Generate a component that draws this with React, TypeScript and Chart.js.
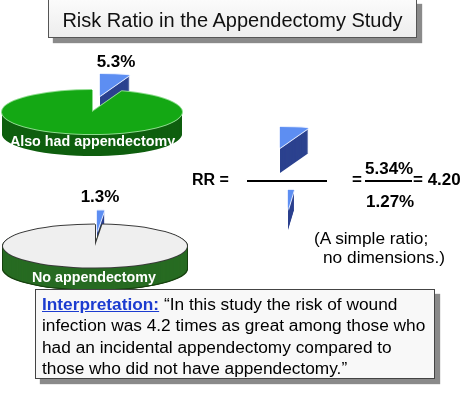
import React, { useEffect, useRef } from 'react';
import { Chart, registerables } from 'chart.js';

Chart.register(...registerables);

// ---- data ----
const groups = ['Also had appendectomy', 'No appendectomy'];
const riskPct = [5.34, 1.27]; // % with wound infection in each group
const sliceLabels = ['infected', 'not infected'];
const titleText = 'Risk Ratio in the Appendectomy Study';
const noteLines = ['(A simple ratio;', 'no dimensions.)'];
const interpLead = 'Interpretation:';
const interpLines = [
  '\u201cIn this study the risk of wound',
  'infection was 4.2 times as great among those who',
  'had an incidental appendectomy compared to',
  'those who did not have appendectomy.\u201d',
];

const FONT = '"Liberation Sans", Arial, Helvetica, sans-serif';

type Face = { top: string; rim: string; edge?: string; rimEdge?: string } | null;

const BLUE: Face = { top: '#5d8ef2', rim: '#2c428f', edge: '#e4ecff' };

function paint(ctx: CanvasRenderingContext2D, el: any, k: number, dx: number, dy: number, color: string) {
  const fake = Object.assign(Object.create(Object.getPrototypeOf(el)), el);
  fake.options = { ...el.options, backgroundColor: color, borderColor: color, borderWidth: 0, offset: 0, spacing: 0 };
  ctx.save();
  ctx.translate(el.x + dx, el.y + dy);
  ctx.scale(1, k);
  ctx.translate(-el.x, -el.y);
  fake.draw(ctx);
  ctx.restore();
}

function Pie3D(props: {
  cx: number; cy: number; rx: number; ry: number; depth: number;
  values: number[]; faces: Face[]; explode: number[][];
}) {
  const { cx, cy, rx, ry, depth, values, faces, explode } = props;
  const ref = useRef<HTMLCanvasElement>(null);
  const W = 2 * Math.ceil(rx + 4);
  const H = 2 * Math.ceil(ry + depth + 24);
  useEffect(() => {
    const k = ry / rx;
    const plugin = {
      id: 'pie3d',
      beforeDatasetsDraw(chart: any) {
        const ctx = chart.ctx as CanvasRenderingContext2D;
        const arcs = chart.getDatasetMeta(0).data;
        arcs.forEach((el: any, i: number) => {
          const f = faces[i];
          if (!f) return;
          const [ex, ey] = explode[i] || [0, 0];
          if (f.rimEdge) {
            for (let d = depth + 1; d >= 0; d--) {
              paint(ctx, el, k, ex - 1, ey + d, f.rimEdge);
              paint(ctx, el, k, ex + 1, ey + d, f.rimEdge);
            }
            paint(ctx, el, k, ex, ey + depth + 1, f.rimEdge);
          }
          for (let d = depth; d >= 1; d--) paint(ctx, el, k, ex, ey + d, f.rim);
          if (f.edge) {
            [[-1, 0], [1, 0], [0, -1], [0, 1]].forEach(([a, b]) => paint(ctx, el, k, ex + a, ey + b, f.edge!));
          }
          paint(ctx, el, k, ex, ey, f.top);
        });
        return false;
      },
    };
    const chart = new Chart(ref.current!, {
      type: 'pie',
      data: {
        labels: sliceLabels,
        datasets: [{
          data: values,
          backgroundColor: faces.map((f) => (f ? f.top : 'transparent')),
          borderWidth: 0,
          radius: rx,
          clip: false,
        } as any],
      },
      options: {
        responsive: false,
        animation: false,
        events: [],
        radius: rx,
        layout: { padding: 0 },
        plugins: { legend: { display: false }, tooltip: { enabled: false } },
      } as any,
      plugins: [plugin],
    });
    return () => chart.destroy();
  }, []);
  return (
    <canvas
      ref={ref}
      width={W}
      height={H}
      style={{ position: 'absolute', left: cx - W / 2, top: cy - H / 2, width: W, height: H }}
    />
  );
}

function Txt(props: { x: number; y: number; size: number; bold?: boolean; color?: string; mid?: boolean; children: any }) {
  const { x, y, size, bold, color = '#000', mid, children } = props;
  return (
    <div
      style={{
        position: 'absolute',
        left: x,
        top: y - 0.8465 * size,
        fontSize: size,
        lineHeight: size + 'px',
        fontWeight: bold ? 700 : 400,
        color,
        whiteSpace: 'nowrap',
        transform: mid ? 'translateX(-50%)' : undefined,
      }}
    >
      {children}
    </div>
  );
}

export default function App() {
  const ratio = (riskPct[0] / riskPct[1]).toFixed(2);
  const rest = (v: number) => [v, 100 - v];
  return (
    <div
      style={{
        position: 'fixed', left: 0, top: 0, width: 474, height: 395,
        background: '#fff', overflow: 'hidden', fontFamily: FONT,
      }}
    >
      {/* pies */}
      <Pie3D cx={92} cy={112} rx={90} ry={22} depth={22} values={rest(riskPct[0])}
        faces={[BLUE, { top: '#14a814', rim: '#0f5f0f', edge: '#8fdc8f' }]}
        explode={[[8, -16], [0, 0]]} />
      <Pie3D cx={95} cy={246} rx={92} ry={21.5} depth={22} values={rest(riskPct[1])}
        faces={[BLUE, { top: '#efefef', rim: '#276b22', edge: '#3a3a3a', rimEdge: '#17420f' }]}
        explode={[[2, -14], [0, 0]]} />
      {/* fraction wedges */}
      <Pie3D cx={280} cy={148} rx={86} ry={21} depth={25} values={rest(riskPct[0])}
        faces={[BLUE, null]} explode={[[0, 0], [0, 0]]} />
      <Pie3D cx={288} cy={210} rx={75} ry={20} depth={20} values={rest(riskPct[1])}
        faces={[BLUE, null]} explode={[[0, 0], [0, 0]]} />

      {/* title box */}
      <div style={{
        position: 'absolute', left: 48, top: -1, width: 369, height: 39, boxSizing: 'border-box',
        border: '1px solid #555', background: 'linear-gradient(#fbfbfb, #ededed)',
        boxShadow: '5px 5px 1px #8a8a8a',
      }} />
      <Txt x={232.5} y={27} size={20} mid color="#111">{titleText}</Txt>

      {/* pie labels */}
      <Txt x={116} y={67} size={17} bold mid>{riskPct[0].toFixed(1) + '%'}</Txt>
      <Txt x={100} y={202} size={17} bold mid>{riskPct[1].toFixed(1) + '%'}</Txt>
      <Txt x={92.5} y={146} size={14.3} bold mid color="#fff">{groups[0]}</Txt>
      <Txt x={94} y={282} size={14.3} bold mid color="#fff">{groups[1]}</Txt>

      {/* formula */}
      <Txt x={192} y={185.5} size={16} bold>RR =</Txt>
      <div style={{ position: 'absolute', left: 247, top: 180, width: 80, height: 2, background: '#000' }} />
      <Txt x={352} y={185.5} size={17} bold>=</Txt>
      <Txt x={365} y={174} size={17} bold>{riskPct[0].toFixed(2) + '%'}</Txt>
      <div style={{ position: 'absolute', left: 365, top: 180, width: 47, height: 2, background: '#000' }} />
      <Txt x={366} y={207} size={17} bold>{riskPct[1].toFixed(2) + '%'}</Txt>
      <Txt x={413} y={185.5} size={17} bold>{'= ' + ratio}</Txt>
      <Txt x={314} y={245} size={17.3}>{noteLines[0]}</Txt>
      <Txt x={323} y={264} size={17.3}>{noteLines[1]}</Txt>

      {/* interpretation box */}
      <div style={{
        position: 'absolute', left: 35, top: 289, width: 400, height: 90, boxSizing: 'border-box',
        border: '1px solid #444', background: '#f8f8f8', boxShadow: '5px 5px 1px #8a8a8a',
      }} />
      {interpLines.map((line, i) => (
        <Txt key={i} x={42} y={310.5 + i * 21.5} size={17.3}>
          {i === 0 ? (
            <>
              <span style={{ color: '#1c3cd0', fontWeight: 700, textDecoration: 'underline' }}>{interpLead}</span>
              {' ' + line}
            </>
          ) : line}
        </Txt>
      ))}
    </div>
  );
}
